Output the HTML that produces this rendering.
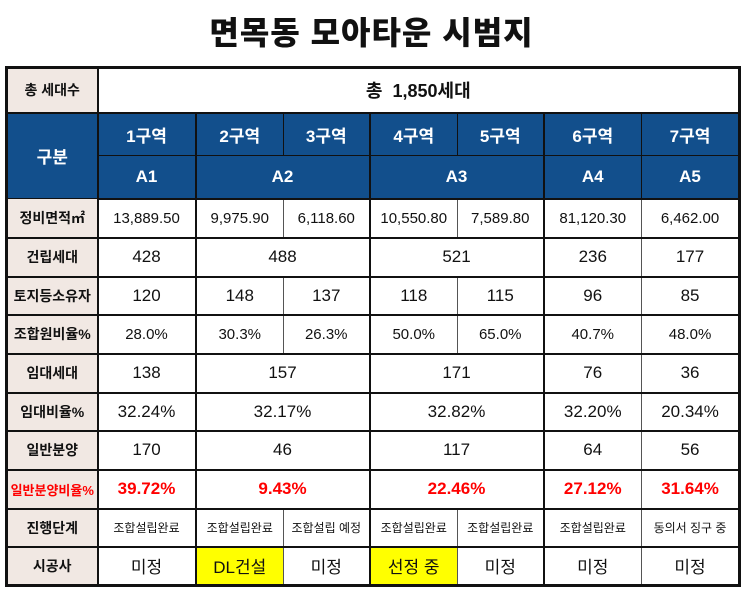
<!DOCTYPE html>
<html><head><meta charset="utf-8"><style>
body{margin:0;width:743px;height:591px;background:#fff;overflow:hidden;font-family:"Liberation Sans","Noto Sans CJK KR",sans-serif;}
h1{position:absolute;left:0;top:8px;width:743px;margin:0;text-align:center;font-size:32px;font-weight:900;color:#111;letter-spacing:1px;}
table{position:absolute;left:5px;top:66px;border-collapse:collapse;table-layout:fixed;width:734px;border:3px solid #111;}
td{border:1px solid #555;text-align:center;padding:0;font-size:17px;color:#111;overflow:hidden;white-space:nowrap;}
td.l{background:#f1e8e3;font-weight:bold;font-size:14px;border-right:2px solid #111;}
td.h{background:#124f8c;color:#fff;font-weight:bold;font-size:17px;border-color:#111;}
td.g{border-left:2px solid #111;}
tr.b td{border-bottom:2px solid #111;}
.sm{font-size:15px;}.st{font-size:12px;}
.red{color:#f00;font-weight:bold;}
.y{background:#ffff00;}
</style></head><body>
<h1>면목동 모아타운 시범지</h1>
<table>
<colgroup><col style="width:91px"><col style="width:98px"><col style="width:88px"><col style="width:86px"><col style="width:88px"><col style="width:86px"><col style="width:98px"><col style="width:98px"></colgroup>
<tr class="b" style="height:45px"><td class="l">총 세대수</td><td colspan="7" style="font-weight:bold;font-size:18px">총 &nbsp;1,850세대</td></tr>
<tr style="height:43px"><td class="h" rowspan="2" style="border-right:2px solid #111">구분</td><td class="h">1구역</td><td class="h g">2구역</td><td class="h">3구역</td><td class="h g">4구역</td><td class="h">5구역</td><td class="h g">6구역</td><td class="h">7구역</td></tr>
<tr class="b" style="height:43px"><td class="h">A1</td><td class="h g" colspan="2">A2</td><td class="h g" colspan="2">A3</td><td class="h g">A4</td><td class="h">A5</td></tr>
<tr class="b" style="height:39px"><td class="l">정비면적㎡</td><td class="sm">13,889.50</td><td class="sm g">9,975.90</td><td class="sm">6,118.60</td><td class="sm g">10,550.80</td><td class="sm">7,589.80</td><td class="sm g">81,120.30</td><td class="sm">6,462.00</td></tr>
<tr class="b" style="height:39px"><td class="l">건립세대</td><td>428</td><td class="g" colspan="2">488</td><td class="g" colspan="2">521</td><td class="g">236</td><td>177</td></tr>
<tr class="b" style="height:38px"><td class="l">토지등소유자</td><td>120</td><td class="g">148</td><td>137</td><td class="g">118</td><td>115</td><td class="g">96</td><td>85</td></tr>
<tr class="b" style="height:39px"><td class="l">조합원비율%</td><td class="sm">28.0%</td><td class="sm g">30.3%</td><td class="sm">26.3%</td><td class="sm g">50.0%</td><td class="sm">65.0%</td><td class="sm g">40.7%</td><td class="sm">48.0%</td></tr>
<tr class="b" style="height:39px"><td class="l">임대세대</td><td>138</td><td class="g" colspan="2">157</td><td class="g" colspan="2">171</td><td class="g">76</td><td>36</td></tr>
<tr class="b" style="height:38px"><td class="l">임대비율%</td><td>32.24%</td><td class="g" colspan="2">32.17%</td><td class="g" colspan="2">32.82%</td><td class="g">32.20%</td><td>20.34%</td></tr>
<tr class="b" style="height:39px"><td class="l">일반분양</td><td>170</td><td class="g" colspan="2">46</td><td class="g" colspan="2">117</td><td class="g">64</td><td>56</td></tr>
<tr class="b" style="height:39px"><td class="l red" style="font-size:13px">일반분양비율%</td><td class="red">39.72%</td><td class="red g" colspan="2">9.43%</td><td class="red g" colspan="2">22.46%</td><td class="red g">27.12%</td><td class="red">31.64%</td></tr>
<tr class="b" style="height:38px"><td class="l">진행단계</td><td class="st">조합설립완료</td><td class="st g">조합설립완료</td><td class="st">조합설립 예정</td><td class="st g">조합설립완료</td><td class="st">조합설립완료</td><td class="st g">조합설립완료</td><td class="st">동의서 징구 중</td></tr>
<tr style="height:39px"><td class="l">시공사</td><td>미정</td><td class="y g">DL건설</td><td>미정</td><td class="y g">선정 중</td><td>미정</td><td class="g">미정</td><td>미정</td></tr>
</table>
</body></html>
